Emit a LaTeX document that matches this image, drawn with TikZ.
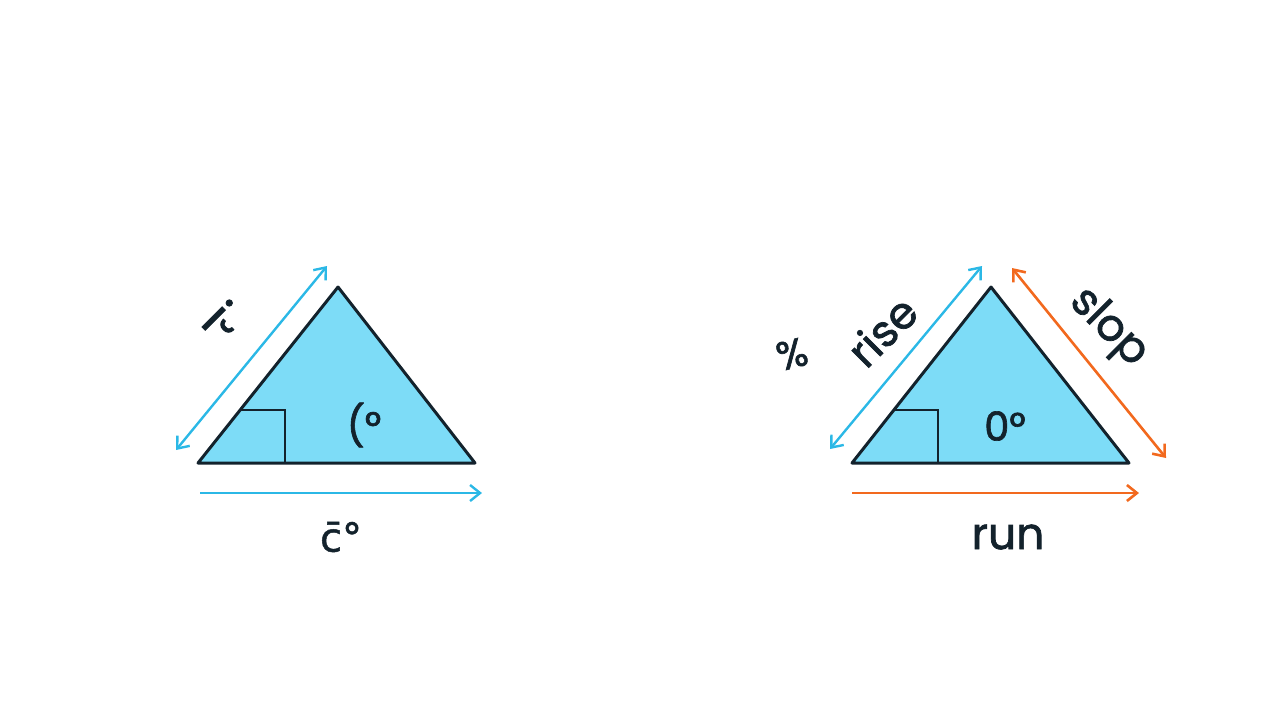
\documentclass[tikz,border=0pt]{standalone}
\usepackage{fontspec}
\setmainfont{Poppins}
\newfontfamily\popmed{Poppins}[FakeBold=1.6]
\newfontfamily\dvfont{DejaVu Sans}[FakeBold=1.2]
\usetikzlibrary{arrows.meta}
\definecolor{tri}{HTML}{7DDCF7}
\definecolor{cy}{HTML}{2BB8E6}
\definecolor{org}{HTML}{F2691E}
\definecolor{ink}{HTML}{13222C}
\tikzset{
  trishape/.style={draw=ink, fill=tri, line width=1.5pt, line join=round},
  sq/.style={draw=ink, line width=1.2pt},
  cyarr/.style={draw=cy, line width=1.2pt, -{Straight Barb[length=5pt,width=8pt,line width=1.2pt]}},
  cyarr2/.style={draw=cy, line width=1.2pt, {Straight Barb[length=5pt,width=8pt,line width=1.2pt]}-{Straight Barb[length=5pt,width=8pt,line width=1.2pt]}},
  orarr/.style={draw=org, line width=1.3pt, -{Straight Barb[length=5pt,width=8pt,line width=1.3pt]}},
  orarr2/.style={draw=org, line width=1.3pt, {Straight Barb[length=5pt,width=8pt,line width=1.3pt]}-{Straight Barb[length=5pt,width=8pt,line width=1.3pt]}},
  lbl/.style={text=ink, font=\fontsize{20}{24}\selectfont\popmed, inner sep=0pt},
  lblb/.style={text=ink, font=\fontsize{22}{26}\selectfont\popmed, inner sep=0pt}
}
\begin{document}
\begin{tikzpicture}[x=0.5pt,y=-0.5pt]
\useasboundingbox (0,0) rectangle (1280,720);
% left triangle
\coordinate (LA) at (198,463);
\coordinate (LB) at (338,287);
\coordinate (LC) at (475,463);
\draw[trishape] (LA) -- (LB) -- (LC) -- cycle;
\draw[sq] (240,410) -- (285,410) -- (285,463);
\coordinate (la1) at (176,450);
\coordinate (la2) at (327,266);
\draw[cyarr2] (la1) -- (la2);
\coordinate (lb1) at (200,493);
\coordinate (lb2) at (482,493);
\draw[cyarr] (lb1) -- (lb2);
\node[lbl, rotate=-45, font=\fontsize{26}{30}\selectfont\popmed] (lt) at (217,327) {i\raisebox{-0.35em}{˘}};
\node[lbl] (lang) at (364,425) {(°};
\node[lbl, font=\fontsize{20}{24}\selectfont\dvfont] (lbot) at (341,537) {c̄°};
% right triangle
\coordinate (RA) at (852,463);
\coordinate (RB) at (991,287);
\coordinate (RC) at (1129,463);
\draw[trishape] (RA) -- (RB) -- (RC) -- cycle;
\draw[sq] (895,410) -- (938,410) -- (938,463);
\coordinate (ra1) at (830,449);
\coordinate (ra2) at (982,266);
\draw[cyarr2] (ra1) -- (ra2);
\coordinate (ro1) at (1012,268);
\coordinate (ro2) at (1166,458);
\draw[orarr2] (ro1) -- (ro2);
\coordinate (rb1) at (852,493);
\coordinate (rb2) at (1139,493);
\draw[orarr] (rb1) -- (rb2);
\node[lbl, rotate=15] (pct) at (792,354) {\%};
\node[lblb, rotate=45] (rise) at (882,331) {rise};
\node[lblb, rotate=-45] (slop) at (1108,328) {slop};
\node[lbl] (rang) at (1005,426) {0°};
\node[lblb] (run) at (1008,537) {run};
\end{tikzpicture}
\end{document}
